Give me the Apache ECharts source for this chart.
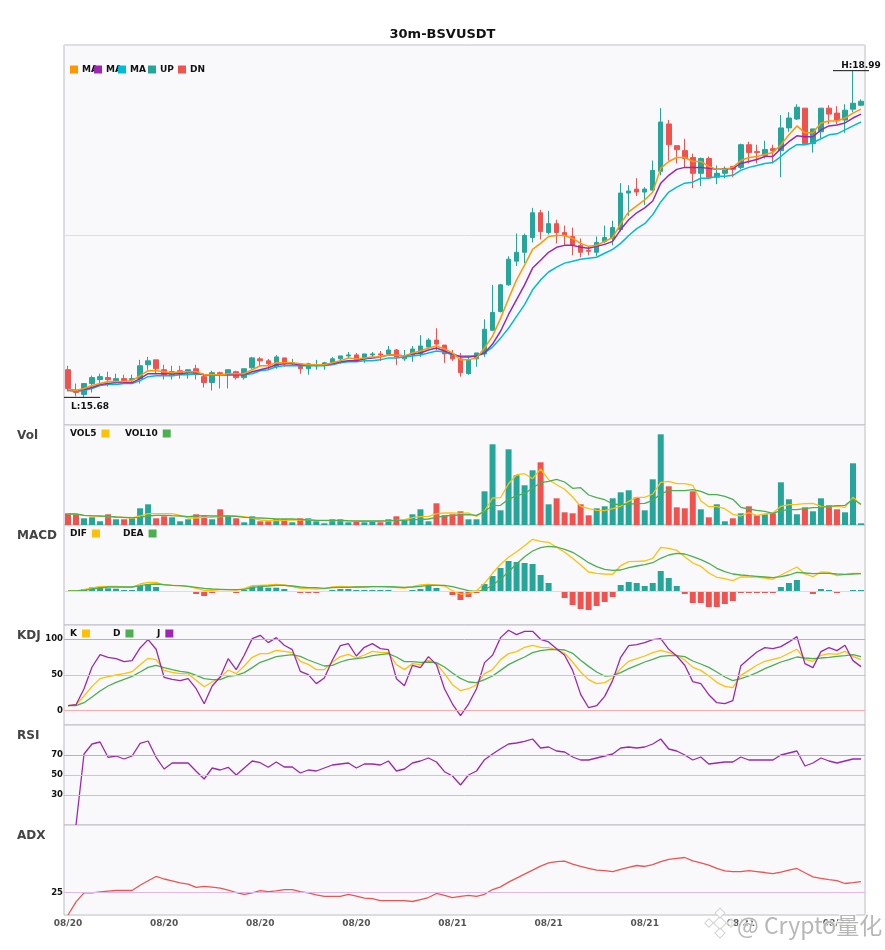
<!DOCTYPE html>
<html>
<head>
<meta charset="utf-8">
<style>html,body{margin:0;padding:0;background:#fff}#c{width:885px;height:950px}</style>
<script src="https://cdn.jsdelivr.net/npm/echarts@6/dist/echarts.min.js"></script>
</head>
<body>
<div id="c"></div>
<script>
const tickLabels = ['08/20','08/20','08/20','08/20','08/21','08/21','08/21','08/21','08/22'];
// open, close, low, high
const candles = [
[15.96,15.77,15.74,16.00],[15.75,15.73,15.69,15.82],[15.71,15.82,15.68,15.82],[15.82,15.88,15.73,15.90],[15.86,15.89,15.82,15.92],
[15.88,15.86,15.79,15.94],[15.84,15.87,15.82,15.92],[15.87,15.85,15.83,15.91],[15.86,15.87,15.82,15.91],[15.87,16.00,15.82,16.06],
[16.01,16.05,15.96,16.09],[16.06,15.97,15.92,16.06],[15.96,15.91,15.86,16.01],[15.90,15.94,15.86,16.00],[15.95,15.93,15.87,16.00],
[15.93,15.96,15.87,15.96],[15.97,15.91,15.86,16.01],[15.89,15.83,15.78,15.92],[15.83,15.93,15.75,15.95],[15.93,15.92,15.77,15.94],
[15.91,15.96,15.77,15.96],[15.94,15.88,15.86,15.95],[15.88,15.97,15.86,15.97],[15.98,16.08,15.97,16.09],[16.07,16.05,16.00,16.09],
[16.05,16.02,15.96,16.07],[15.99,16.09,15.97,16.11],[16.08,16.02,15.99,16.08],[16.02,16.03,16.01,16.07],[16.02,15.97,15.92,16.02],
[15.97,16.02,15.91,16.03],[16.00,16.01,15.96,16.06],[16.01,16.03,15.96,16.04],[16.03,16.07,16.02,16.09],[16.07,16.10,16.02,16.10],
[16.10,16.11,16.07,16.14],[16.11,16.06,16.04,16.13],[16.07,16.12,16.03,16.12],[16.11,16.12,16.08,16.14],[16.12,16.11,16.05,16.15],
[16.12,16.16,16.10,16.20],[16.16,16.09,16.01,16.17],[16.07,16.09,16.05,16.16],[16.11,16.17,16.04,16.20],[16.12,16.20,16.09,16.31],
[16.19,16.26,16.17,16.28],[16.26,16.22,16.16,16.38],[16.21,16.12,16.03,16.21],[16.12,16.07,16.05,16.16],[16.07,15.93,15.89,16.13],
[15.92,16.06,15.91,16.09],[16.07,16.13,15.99,16.13],[16.12,16.37,16.09,16.47],[16.36,16.54,16.35,16.82],[16.55,16.82,16.54,16.83],
[16.82,17.08,16.81,17.11],[17.06,17.15,17.01,17.34],[17.15,17.32,17.04,17.34],[17.30,17.55,17.25,17.60],[17.55,17.36,17.28,17.58],
[17.35,17.44,17.33,17.57],[17.44,17.35,17.24,17.48],[17.35,17.32,17.22,17.42],[17.31,17.22,17.12,17.40],[17.22,17.15,17.10,17.29],
[17.17,17.16,17.12,17.21],[17.15,17.25,17.11,17.31],[17.26,17.30,17.24,17.42],[17.29,17.40,17.22,17.47],[17.38,17.75,17.36,17.85],
[17.75,17.77,17.52,17.83],[17.79,17.76,17.72,17.90],[17.76,17.79,17.63,17.81],[17.78,17.98,17.76,18.08],[17.97,18.47,17.93,18.61],
[18.45,18.24,18.08,18.49],[18.23,18.19,18.05,18.23],[18.18,18.10,18.01,18.30],[18.11,17.95,17.80,18.15],[17.95,18.10,17.82,18.11],
[18.10,17.91,17.90,18.12],[17.91,17.95,17.84,18.03],[17.95,18.00,17.90,18.02],[18.02,17.99,17.91,18.02],[18.01,18.24,17.99,18.25],
[18.24,18.16,18.05,18.27],[18.17,18.16,18.05,18.24],[18.13,18.19,18.10,18.28],[18.20,18.18,18.05,18.24],[18.18,18.41,17.91,18.54],
[18.41,18.51,18.37,18.57],[18.50,18.62,18.49,18.65],[18.61,18.25,18.24,18.61],[18.25,18.40,18.16,18.40],[18.37,18.61,18.30,18.61],
[18.61,18.55,18.45,18.64],[18.56,18.49,18.45,18.63],[18.49,18.59,18.36,18.65],[18.60,18.66,18.57,18.99],[18.64,18.68,18.63,18.70]];
const ma5 = [15.76,15.75,15.77,15.80,15.82,15.84,15.84,15.84,15.85,15.90,15.95,15.95,15.94,15.93,15.94,15.94,15.94,15.91,15.91,15.91,15.92,15.92,15.92,15.96,16.00,16.00,16.03,16.03,16.03,16.02,16.01,16.01,16.01,16.03,16.05,
16.08,16.07,16.08,16.09,16.09,16.11,16.11,16.10,16.13,16.15,16.18,16.20,16.17,16.13,16.06,16.06,16.08,16.18,16.30,16.48,16.68,16.87,17.02,17.18,17.24,17.31,17.32,17.32,17.29,17.24,17.21,17.22,17.26,
17.30,17.44,17.56,17.62,17.68,17.76,18.00,18.07,18.11,18.11,18.07,18.07,18.02,17.99,17.99,18.01,18.08,18.11,18.12,18.14,18.16,18.24,18.34,18.43,18.36,18.36,18.46,18.48,18.48,18.51,18.56,18.60];
const ma10 = [15.76,15.75,15.76,15.78,15.81,15.82,15.83,15.83,15.83,15.87,15.92,15.92,15.92,15.92,15.92,15.93,15.93,15.91,15.91,15.91,15.91,15.91,15.91,15.94,15.96,15.98,16.01,16.02,16.02,16.01,16.01,16.01,16.01,16.02,16.04,
16.05,16.05,16.07,16.08,16.09,16.11,16.11,16.10,16.12,16.13,16.16,16.18,16.15,16.12,16.09,16.09,16.10,16.13,16.22,16.35,16.52,16.67,16.82,16.99,17.07,17.15,17.20,17.22,17.22,17.20,17.19,17.21,17.23,
17.26,17.38,17.48,17.55,17.60,17.67,17.85,17.93,17.99,18.01,18.01,18.01,18.00,17.99,17.99,18.00,18.05,18.07,18.09,18.12,18.12,18.20,18.27,18.33,18.32,18.32,18.39,18.43,18.44,18.46,18.51,18.55];
const ma20 = [15.75,15.74,15.75,15.77,15.80,15.81,15.81,15.82,15.82,15.85,15.89,15.90,15.90,15.90,15.91,15.91,15.92,15.91,15.90,15.91,15.91,15.91,15.91,15.92,15.95,15.96,15.99,16.00,16.00,16.00,16.00,16.00,16.00,16.01,16.03,
16.04,16.04,16.05,16.05,16.06,16.08,16.08,16.09,16.10,16.11,16.13,16.15,16.14,16.11,16.10,16.10,16.10,16.13,16.19,16.28,16.38,16.50,16.62,16.77,16.87,16.95,17.00,17.04,17.06,17.08,17.09,17.10,17.14,
17.18,17.24,17.32,17.39,17.44,17.53,17.66,17.76,17.81,17.85,17.86,17.90,17.90,17.92,17.92,17.93,17.98,18.01,18.03,18.05,18.06,18.12,18.19,18.24,18.24,18.26,18.30,18.34,18.35,18.39,18.43,18.47];
const extremeNames = ['H','L'];
const extremeIndex = [98,2];
const extremePrice = [18.99,15.68];
const volume = [11.7,10.7,6.7,7.7,3.7,10.7,5.7,5.7,6.7,16.7,20.7,6.7,8.7,7.7,3.7,5.7,10.7,8.7,5.7,15.7,8.7,6.7,2.7,8.7,3.7,3.7,5.7,5.7,2.7,6.7,6.7,3.7,1.7,5.7,5.7,2.7,3.7,2.7,3.7,2.7,5.7,8.7,4.7,10.7,15.7,3.7,21.7,
9.7,10.7,13.7,5.7,5.7,33.7,80.7,14.7,75.7,49.7,39.7,54.7,62.7,20.7,26.7,12.7,11.7,20.7,9.7,16.7,18.7,26.7,32.7,34.7,27.7,14.7,45.7,90.7,38.7,17.7,16.7,33.7,15.7,7.7,20.7,3.7,6.7,11.7,18.7,9.7,10.7,11.7,42.7,25.7,10.7,17.7,13.7,26.7,19.7,15.7,12.7,61.7,1.7];
const volUp = [0,0,1,1,1,0,1,0,1,1,1,0,0,1,1,1,0,0,1,0,1,0,1,1,0,0,1,0,1,0,1,1,1,1,1,1,0,1,1,0,1,0,1,1,1,1,0,
0,0,0,1,1,1,1,1,1,1,1,1,0,1,0,0,0,0,0,1,1,1,1,1,0,1,1,1,0,0,0,0,1,0,1,1,0,1,0,0,1,0,1,1,1,0,1,1,0,0,1,1,1];
const vol5 = [11,11,9.7,9,8.7,8.3,8,7.3,7,9,11.3,11.3,11.3,11.3,9.7,7,7,7.7,7.7,8.3,9.3,9,8.3,7,5,4.3,4.3,4.7,5,5,5.3,4.7,4.3,4.3,4.3,4,3.7,3.7,3.7,3.7,4,4.7,5.3,7.3,8.3,8.3,11.3,
12,12,11.7,12,8.7,14,27,27.3,41.3,50.3,51.3,46.3,56,45.3,40.3,35.7,28,18.7,16.3,14.7,14.3,16.3,18.7,23.7,27.7,27.7,31,42.7,43.7,41.3,41.3,39.7,24.3,18.3,18.3,16.3,10.7,9,12.3,9.7,11,12,18.7,20.3,20.7,21.3,21.7,18.7,18.3,18.7,17.7,27.7,20.3];
const vol10 = [11,11,9.7,9.3,9,8.7,8,7.7,7.3,7.7,9,9.7,9.7,9.3,9,8.3,9,9.3,9,9,9,8.7,7.7,7.3,7,6.7,6,6,6,5.7,5,4.7,4.7,4.7,4.7,4.3,4,4,4,4,4.3,4.7,4.7,5.3,5.3,6,7.7,
9,9.7,10,10.3,9.7,13.7,19.3,19.7,25.7,29.3,31.3,37,42.3,43.7,45.7,43,36.7,37.3,30,27.3,25.3,21,20.3,21,21.3,21.7,24.7,31,34.3,34.3,34.3,35.3,33.7,30.3,30.3,28.7,25.7,17.7,16,14.7,13.7,11.7,14.3,15.3,15.3,16.3,17.3,17.7,18.7,19.3,19.7,25.7,20.7];
const macdHist = [0,0,2,3.7,4.3,2.7,2.3,1,1,5,6.7,4,-0.7,-0.7,-0.7,-0.7,-3,-5,-2,-1,0,-2,1,4.7,5,3.3,3.3,2,0,-2,-2,-2,-0.7,1,2,2,1,1,1,1,1,-0.7,-0.7,1,2,5,3,
-0.7,-4,-9,-6,-2,7,15,23,30,29,28,27,16,8,-0.7,-7,-14,-18,-19,-15,-11,-6,6,9,8,5,8,20,13,5,-3,-12,-12,-16,-16,-13,-10,-2,-2,-2,-2,-2,4,8,11,-0.7,-3,2,1,-2,-0.7,1,1];
const dif = [0,0,1.3,3,4.3,4.7,4.7,4,3.7,7,8.7,8.7,6,5.7,5.3,4.7,2.7,0.7,0.7,1.3,1.3,1,2.3,5.3,5.7,6,6.7,6,4.3,2.7,2.3,2,2.3,4,4.7,4.3,4,4.3,4.3,4.3,4,3.3,3,4.3,6,6.7,6,
5,0.3,-3,-2.7,0.3,7.7,17.7,26.7,33.7,39.3,45.3,51.7,49.7,48.7,43.7,38.7,32.7,26,19,17.7,17,16.7,25.3,29.3,29.7,30,32.7,43.7,42.7,40.7,34.3,28,24.7,18,13.7,12.3,10.3,14,14,14,13,11.7,16,20,24,17,14.3,19,18.7,15.3,16.3,17.7,17.7];
const dea = [0,0,0.7,2,3,4,4,4,4,5.3,6.7,7,6.3,5.7,5.3,4.7,3.7,2.7,2,1.7,1.3,1.3,1.7,3.3,4.7,5,5.7,5.7,5,4,3.3,3.3,2.7,3.3,3.7,3.7,4,4,4.3,4.3,4.3,4,3.7,4,4.7,5.7,5.7,
5.7,4.3,2.3,0.3,-0.7,1,6,11.7,19.3,27,34.3,40,43.3,44.7,44,41.7,38.7,33.7,28.3,24.3,21.7,20.7,21,23.3,25,26.3,28.3,32.7,36,37.7,37,34.3,31.3,27.7,22.7,19.3,17,16,15.3,14.7,14,13.3,14.3,16,18.7,18,17.3,17.7,17.7,17,16.7,17,17.3];
const kLine = [7,8.4,20.6,34.1,44.9,47.7,50,51.9,54.7,64.5,73.4,71.5,56.5,53.7,51.9,51.9,42.5,33.6,40.2,46.3,57,51.9,62.6,74.8,79.9,79.9,84.6,83.2,81.3,69.2,65,57.5,57.5,68.2,75.7,79,73.8,78,83.2,81.8,81.3,64.5,57.5,65.9,64.5,70.6,65.9,
51.9,36.4,28,30.8,36.4,51.9,57.5,71.5,79.9,82.7,88.8,91.6,88.8,88.3,85,80.4,68.2,54.2,43.5,37.9,39.3,45.8,58.9,69.2,72.9,76.6,81.3,84.6,81.3,77.6,71,60.7,56.5,48.6,39.7,34.1,32.2,49.5,56.5,63.6,69.2,72,74.8,80.4,86,72,69.2,77.6,79.9,79,83.2,76.2,71.5];
const dLine = [7,7,11.2,19.2,27.6,34.6,39.7,43.9,48.1,54.2,60.7,63.6,60.3,57.5,55.1,53.7,49.5,44.9,43.5,43.5,48.1,49.5,53.3,60.3,67.8,71.5,75.7,77.1,78.5,76.2,71,66.8,62.6,63.6,68.2,71.5,72.9,74.3,77.1,78.5,79.9,75.2,68.7,68.7,67.8,68.2,67.3,
61.2,52.8,45.3,40.2,39.3,43.5,48.6,56.5,64.5,70.1,75.2,81.3,84.1,85.5,86,85,80.4,70.6,62.1,54.2,48.6,49.1,53.3,58.9,63.6,68.2,72,76.2,77.1,77.1,75.7,69.6,65.4,60.7,54.2,47.2,42.1,44.9,48.6,53.3,58.9,63.6,68.2,71.5,75.2,73.8,72.9,73.8,74.8,76.2,77.1,78.5,75.7];
const jLine = [7,8.4,30.8,61.2,78.5,74.8,72.9,68.7,70.1,87.9,99.5,86,46.7,43.9,42.1,44.9,30.8,9.8,34.6,47.2,72.9,57.5,77.6,100.9,105.6,95.3,102.3,91.6,85.5,55.1,50.5,37.9,45.8,70.6,91.1,93.9,76.6,88.8,93.9,86.9,85.5,44.9,35,63.6,60.3,75.7,64.5,
30.8,9.3,-7,9.3,30.8,67.3,77.6,102.3,112.6,106.5,111.2,111.2,100,96.3,86.9,77.6,56.5,22.9,4.2,7,20.1,42.5,74.8,91.1,92.5,95.3,99.5,100.9,86,76.6,63.6,40.7,37.9,22.4,11.2,9.8,14,63.1,72.9,82.2,88.3,86.9,89.7,96.3,103.7,65.9,60.3,82.7,88.3,84.1,91.6,70.1,61.7];
const rsi = [null,0,71,81,83,67.7,69,66,69,81.7,84,67.7,56,62,62,62,53.7,46,57,55,57.7,50,57,64,62.3,57.7,63,58,58,52,55,54,57,60,61,62,57,61,61,60,64,54,56,62,64,67,63,
53.3,49,40,50,54,65.3,71,76.3,81,82,83.7,86,77,78,74,73,68,65,65,67,69,71,77,78,77,78,81,86,76,74,70,65,68,61,62,63,63,68,65,65,65,65,70,72,74,59,62,67,64,62,64,66,66];
const adx = [0,14.6,24.6,24.6,25.7,26.5,27.2,27.2,27.2,33,38,42.8,40,38,35.7,34.3,30.6,31.7,31,29.8,27.6,25,22.8,24.6,27.2,26,26.9,28.3,28.3,26,24.6,22.4,20.6,20.6,20.6,22.8,20.9,18.7,18.3,16,16,16,16,15,17.2,19.4,23.9,21.7,19.4,20.6,
21.7,20.6,23,28.3,31.3,36.5,41,45.4,49.8,54.3,58,59.4,59.8,56.5,53.9,51.7,49.8,49.4,48.3,50.6,52.8,55,53.9,56,59.4,61.7,63,63.9,60.2,58,55.4,51.7,49,48.3,48.3,49.4,48.3,47.2,46,47.6,49.8,51.7,46.9,42.4,40.6,39.4,38.3,35,36,37.2];

const C = {up:'#26a69a',dn:'#ef5350',ma5:'#ff9800',ma10:'#9c27b0',ma20:'#00bcd4',yellow:'#ffc107',green:'#4caf50',purple:'#9c27b0',
  bg:'#f9f9fc',border:'#bcbcc4',teal:'#80cbc4',gray:'#c8c8cc',pink:'#ffabab',lilac:'#e1b8e8'};
const FONT = '"DejaVu Sans"';
const categories = candles.map((_,i)=> i%12===0 ? tickLabels[i/12] : '');
const blank = ['-','-','-','-'];
const upCandles = candles.map(c=> c[1]>=c[0] ? c : blank);
const dnCandles = candles.map(c=> c[1]<c[0] ? c : blank);

const L = 64, W = 801;
const gridTB = [[45,380],[425,100],[525,100],[625,100],[725,100],[825,90]];
const grids = gridTB.map(t=>({left:L,width:W,top:t[0],height:t[1],show:true,backgroundColor:C.bg,borderColor:C.border,borderWidth:1,containLabel:false}));
const xAxes = gridTB.map((t,i)=>({type:'category',gridIndex:i,data:categories,boundaryGap:true,
  axisLine:{show:false},axisTick:{show:false},splitLine:{show:false},
  axisLabel:i===5?{show:true,interval:0,margin:4,hideOverlap:false,fontFamily:FONT,fontSize:9,fontWeight:'bold',color:'#555'}:{show:false}}));
const noAxis = {axisLine:{show:false},axisTick:{show:false}};
const tickLabel = vals => ({show:true,customValues:vals,margin:1,fontFamily:FONT,fontSize:8.5,fontWeight:'bold',color:'#111'});
const yAxes = [
  {type:'value',gridIndex:0,min:15.4,max:19.25,interval:1.925,...noAxis,axisLabel:{show:false},splitLine:{show:true,lineStyle:{color:'#dedee0',width:1}}},
  {type:'value',gridIndex:1,min:0,max:100,...noAxis,axisLabel:{show:false},splitLine:{show:false}},
  {type:'value',gridIndex:2,min:-34,max:66,...noAxis,axisLabel:{show:false},splitLine:{show:false}},
  {type:'value',gridIndex:3,min:-20,max:120,...noAxis,axisLabel:tickLabel([0,50,100]),splitLine:{show:false}},
  {type:'value',gridIndex:4,min:0,max:100,...noAxis,axisLabel:tickLabel([30,50,70]),splitLine:{show:false}},
  {type:'value',gridIndex:5,min:0,max:100,...noAxis,axisLabel:tickLabel([25]),splitLine:{show:false}}
];
const hLines = (vals,colors) => ({silent:true,symbol:'none',animation:false,label:{show:false},
  data:vals.map((v,i)=>({yAxis:v,lineStyle:{color:colors[i],width:1,type:'solid',opacity:1}}))});
const line = (name,data,color,ax,width,extra) => Object.assign({type:'line',name,data,xAxisIndex:ax,yAxisIndex:ax,showSymbol:false,symbol:'none',
  lineStyle:{color,width:width||1.3},itemStyle:{color},connectNulls:false,z:3,silent:true},extra||{});
const candle = (name,data,color) => ({type:'candlestick',name,data,xAxisIndex:0,yAxisIndex:0,barWidth:5,silent:true,
  itemStyle:{color,color0:color,borderColor:color,borderColor0:color,borderWidth:1},z:2});

const series = [
  candle('UP',upCandles,C.up),
  candle('DN',dnCandles,C.dn),
  line('MA20',ma20,C.ma20,0,1.5),
  line('MA10',ma10,C.ma10,0,1.5),
  line('MA5',ma5,C.ma5,0,1.5),
  {type:'custom',name:'extremes',xAxisIndex:0,yAxisIndex:0,silent:true,clip:false,z:5,
   data:extremeNames.map((n,i)=>[extremeIndex[i],extremePrice[i],i]),
   encode:{x:0,y:1},
   renderItem:(params,api)=>{
     const p = api.coord([api.value(0),api.value(1)]);
     const k = api.value(2), isHigh = k===0;
     return {type:'group',children:[
       {type:'line',shape:{x1:p[0]-20,y1:p[1],x2:p[0]+16,y2:p[1]},style:{stroke:'#111',lineWidth:1}},
       {type:'text',style:{text:extremeNames[k]+':'+extremePrice[k].toFixed(2),x:p[0]+(isHigh?8:6),y:p[1]+(isHigh?-5.5:9),
         textAlign:'center',textVerticalAlign:'middle',font:'bold 9px "DejaVu Sans"',fill:'#111'}}
     ]};
   }},
  {type:'bar',name:'Volume',data:volume,xAxisIndex:1,yAxisIndex:1,barWidth:6,silent:true,
   itemStyle:{color:p=>volUp[p.dataIndex]?C.up:C.dn}},
  line('VOL5',vol5,C.yellow,1),
  line('VOL10',vol10,C.green,1),
  {type:'bar',name:'MACD',data:macdHist,xAxisIndex:2,yAxisIndex:2,barWidth:6,silent:true,
   itemStyle:{color:p=>p.value>=0?C.up:C.dn},markLine:hLines([0],['#dcdcde'])},
  line('DIF',dif,C.yellow,2),
  line('DEA',dea,C.green,2),
  line('K',kLine,C.yellow,3,1.3,{markLine:hLines([100,50,0],[C.teal,C.gray,C.pink])}),
  line('D',dLine,C.green,3),
  line('J',jLine,C.purple,3),
  line('RSI',rsi,C.purple,4,1.3,{markLine:hLines([70,50,30],[C.teal,C.gray,C.pink])}),
  line('ADX',adx,C.dn,5,1.3,{markLine:hLines([25],[C.lilac])})
];

const legendOf = (name,left,top,textFirst,label) => ({show:true,data:[name],left,top,padding:0,itemWidth:8,itemHeight:8,itemGap:0,
  icon:'rect',align:textFirst?'right':'left',selectedMode:false,inactiveColor:'#ccc',
  itemStyle:{borderWidth:0},lineStyle:{opacity:0},
  formatter:label?(()=>label):undefined,
  textStyle:{fontFamily:FONT,fontSize:9,fontWeight:'bold',color:'#111',padding:textFirst?0:[0,0,0,-1]}});
const legends = [
  legendOf('MA5',70,65,false,'MA'),legendOf('MA10',94,65,false,'MA'),legendOf('MA20',118,65,false,'MA'),
  legendOf('UP',148,65,false),legendOf('DN',178,65,false),
  legendOf('VOL5',70,429,true),legendOf('VOL10',125,429,true),
  legendOf('DIF',70,529,true),legendOf('DEA',123,529,true),
  legendOf('K',70,629,true),legendOf('D',113,629,true),legendOf('J',157,629,true)
];
const panelTitle = (text,top) => ({text,left:17,top,padding:0,textStyle:{fontFamily:FONT,fontSize:12,fontWeight:'bold',color:'#444'}});
const titles = [
  {text:'30m-BSVUSDT',left:'center',top:28,padding:0,textStyle:{fontFamily:FONT,fontSize:13,fontWeight:'bold',color:'#111'}},
  panelTitle('Vol',429.5),panelTitle('MACD',529.5),panelTitle('KDJ',629.5),panelTitle('RSI',729.5),panelTitle('ADX',829.5)
];
const diamond = (x,y,s) => ({type:'rect',x,y,rotation:Math.PI/4,shape:{x:-s/2,y:-s/2,width:s,height:s},
  style:{fill:'rgba(255,255,255,0.85)',stroke:'rgba(205,205,205,0.9)',lineWidth:1},z:100});
const chart = echarts.init(document.getElementById('c'),null,{renderer:'canvas'});
chart.setOption({
  animation:false,backgroundColor:'#fff',
  title:titles,legend:legends,grid:grids,xAxis:xAxes,yAxis:yAxes,series,
  graphic:{elements:[
    diamond(720,923,9),diamond(709,923,6),diamond(731,923,6),diamond(720,913,7),diamond(720,933,7),
    {type:'text',x:737,y:925,z:100,style:{text:'@ Crypto量化',font:'23px "Noto Sans CJK SC"',fill:'rgba(170,170,170,0.85)',
      stroke:'rgba(255,255,255,0.8)',lineWidth:2,textVerticalAlign:'middle'}}
  ]}
});
</script>
</body>
</html>
